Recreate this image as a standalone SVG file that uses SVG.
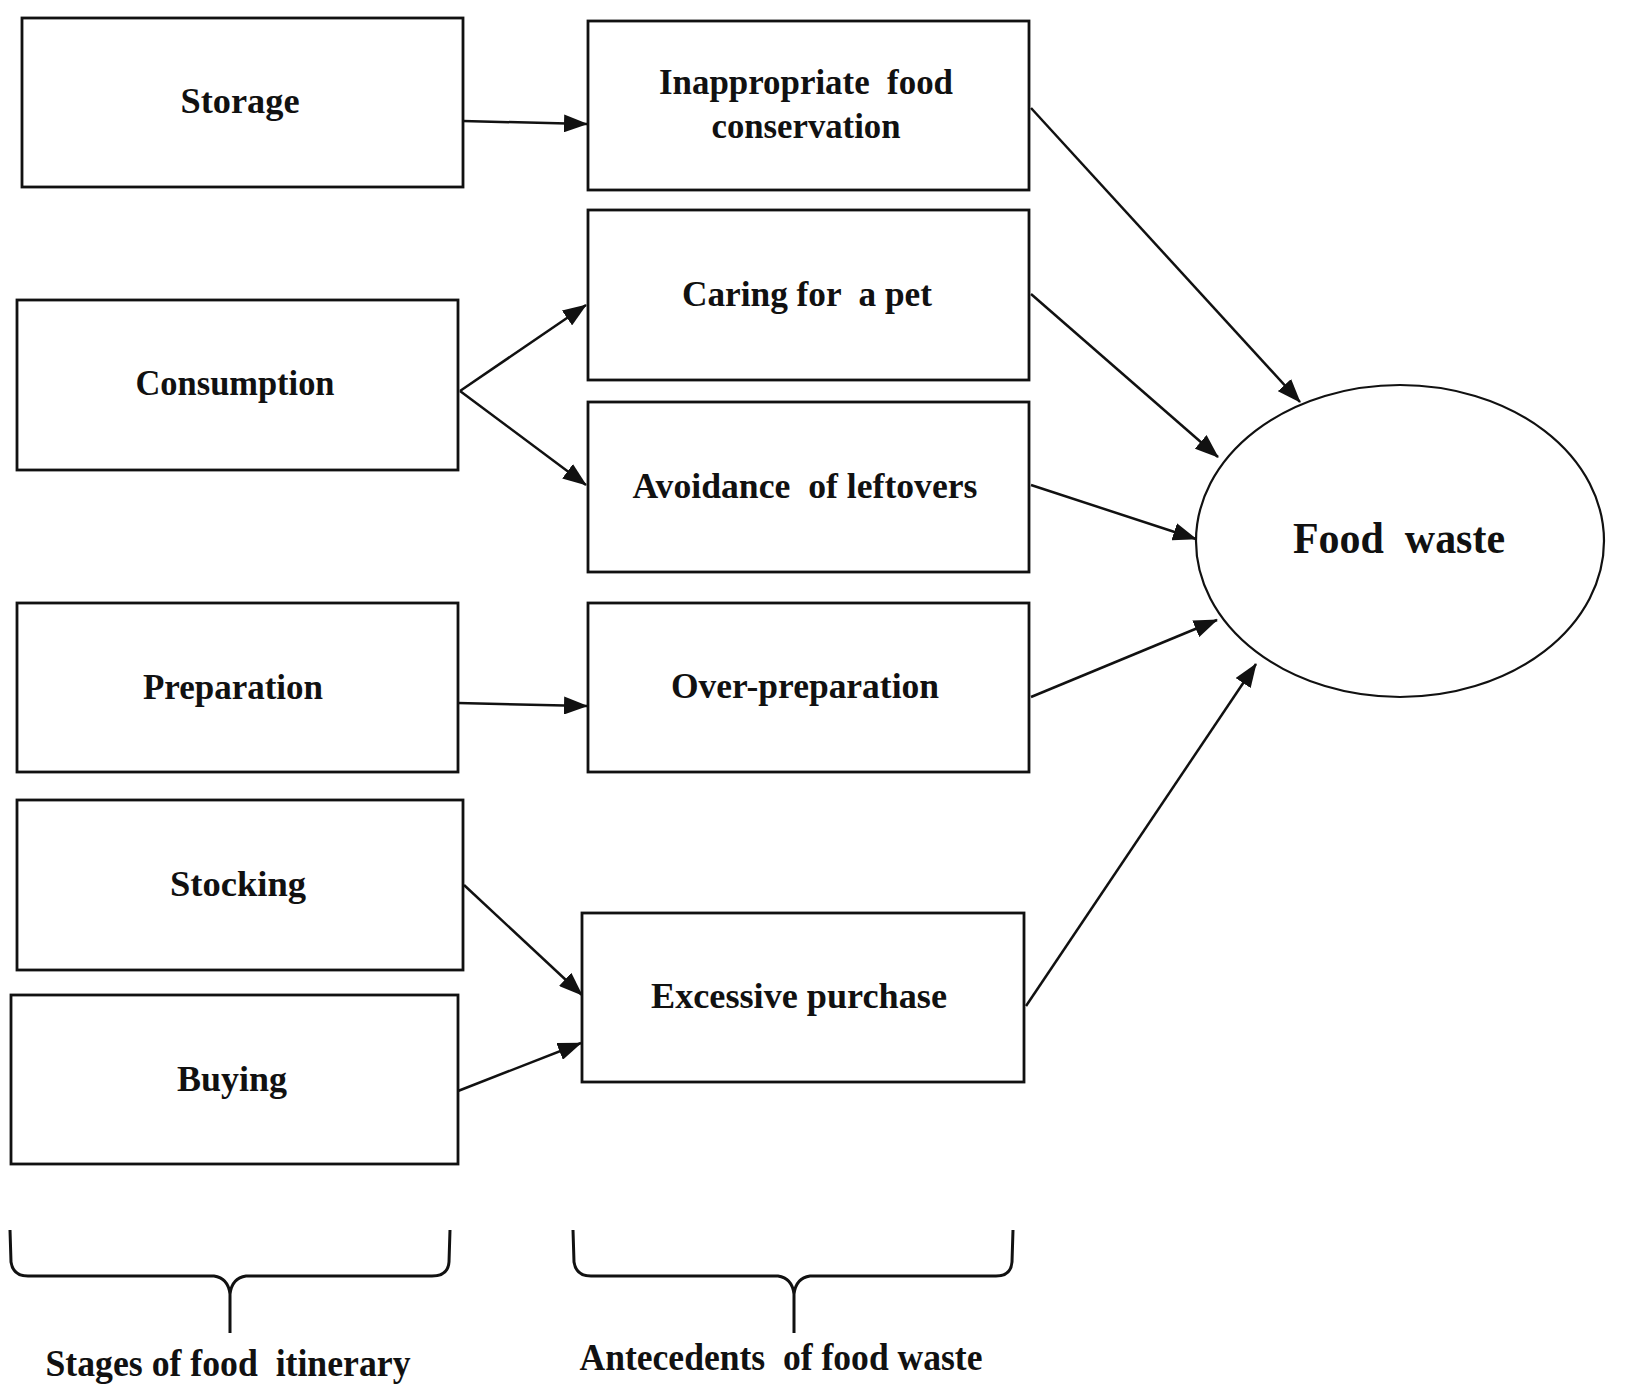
<svg xmlns="http://www.w3.org/2000/svg" width="1635" height="1389" viewBox="0 0 1635 1389">
<style>
.box{fill:#fff;stroke:#111;stroke-width:2.8}
.t{font-family:"Liberation Serif","Times New Roman",serif;font-weight:bold;font-size:36px;fill:#111;text-anchor:middle;white-space:pre}
.big{font-size:44px}
.lab{font-size:38px}
.c{stroke:#111;stroke-width:2.5;fill:none}
.br{stroke:#111;stroke-width:3;fill:none;stroke-linejoin:round}
</style>
<defs>
<marker id="ah" markerUnits="userSpaceOnUse" markerWidth="24" markerHeight="18" refX="23" refY="9" orient="auto">
<path d="M0 0 L24 9 L0 18 Z" fill="#111"/>
</marker>
</defs>
<rect width="1635" height="1389" fill="#fff"/>
<g id="connectors">
<line class="c" x1="463" y1="121" x2="587" y2="124" marker-end="url(#ah)"/>
<line class="c" x1="460" y1="391" x2="586" y2="305" marker-end="url(#ah)"/>
<line class="c" x1="460" y1="391" x2="586" y2="485" marker-end="url(#ah)"/>
<line class="c" x1="458" y1="703" x2="587" y2="706" marker-end="url(#ah)"/>
<line class="c" x1="464" y1="885" x2="582" y2="995" marker-end="url(#ah)"/>
<line class="c" x1="458" y1="1091" x2="581" y2="1043" marker-end="url(#ah)"/>
<line class="c" x1="1031" y1="108" x2="1300" y2="402" marker-end="url(#ah)"/>
<line class="c" x1="1031" y1="294" x2="1218" y2="457" marker-end="url(#ah)"/>
<line class="c" x1="1031" y1="485" x2="1196" y2="539" marker-end="url(#ah)"/>
<line class="c" x1="1031" y1="697" x2="1217" y2="620" marker-end="url(#ah)"/>
<line class="c" x1="1026" y1="1006" x2="1256" y2="664" marker-end="url(#ah)"/>
</g>
<g id="storage"><rect class="box" x="22" y="18" width="441" height="169"/><text class="t" x="240" y="113" textLength="119" lengthAdjust="spacingAndGlyphs">Storage</text></g>
<g id="consumption"><rect class="box" x="17" y="300" width="441" height="170"/><text class="t" x="235" y="395" textLength="199" lengthAdjust="spacingAndGlyphs">Consumption</text></g>
<g id="preparation"><rect class="box" x="17" y="603" width="441" height="169"/><text class="t" x="233" y="699" textLength="180" lengthAdjust="spacingAndGlyphs">Preparation</text></g>
<g id="stocking"><rect class="box" x="17" y="800" width="446" height="170"/><text class="t" x="238" y="896" textLength="136" lengthAdjust="spacingAndGlyphs">Stocking</text></g>
<g id="buying"><rect class="box" x="11" y="995" width="447" height="169"/><text class="t" x="232" y="1091" textLength="110" lengthAdjust="spacingAndGlyphs">Buying</text></g>
<g id="inappropriate"><rect class="box" x="588" y="21" width="441" height="169"/><text class="t" x="806" y="94" textLength="294" lengthAdjust="spacingAndGlyphs">Inappropriate  food</text><text class="t" x="806" y="138" textLength="189" lengthAdjust="spacingAndGlyphs">conservation</text></g>
<g id="caring"><rect class="box" x="588" y="210" width="441" height="170"/><text class="t" x="807" y="306" textLength="250" lengthAdjust="spacingAndGlyphs">Caring for  a pet</text></g>
<g id="avoidance"><rect class="box" x="588" y="402" width="441" height="170"/><text class="t" x="805" y="498" textLength="345" lengthAdjust="spacingAndGlyphs">Avoidance  of leftovers</text></g>
<g id="overprep"><rect class="box" x="588" y="603" width="441" height="169"/><text class="t" x="805" y="698" textLength="268" lengthAdjust="spacingAndGlyphs">Over-preparation</text></g>
<g id="excessive"><rect class="box" x="582" y="913" width="442" height="169"/><text class="t" x="799" y="1008" textLength="296" lengthAdjust="spacingAndGlyphs">Excessive purchase</text></g>
<g id="foodwaste"><ellipse cx="1400" cy="541" rx="204" ry="156" fill="#fff" stroke="#111" stroke-width="2.2"/><text class="t big" x="1399" y="553" textLength="212" lengthAdjust="spacingAndGlyphs">Food  waste</text></g>
<g id="brace-stages">
<path class="br" d="M10 1230 L11 1262 Q13 1276 28 1276 L214 1276 Q228 1278 230 1294 L230 1333 M230 1294 Q232 1278 246 1276 L432 1276 Q448 1276 449 1262 L450 1230"/>
<text class="t lab" x="228" y="1376" textLength="365" lengthAdjust="spacingAndGlyphs">Stages of food  itinerary</text>
</g>
<g id="brace-antecedents">
<path class="br" d="M573 1230 L574 1262 Q576 1276 591 1276 L778 1276 Q792 1278 794 1294 L794 1333 M794 1294 Q796 1278 810 1276 L996 1276 Q1011 1276 1012 1262 L1013 1230"/>
<text class="t lab" x="781" y="1370" textLength="403" lengthAdjust="spacingAndGlyphs">Antecedents  of food waste</text>
</g>
</svg>
